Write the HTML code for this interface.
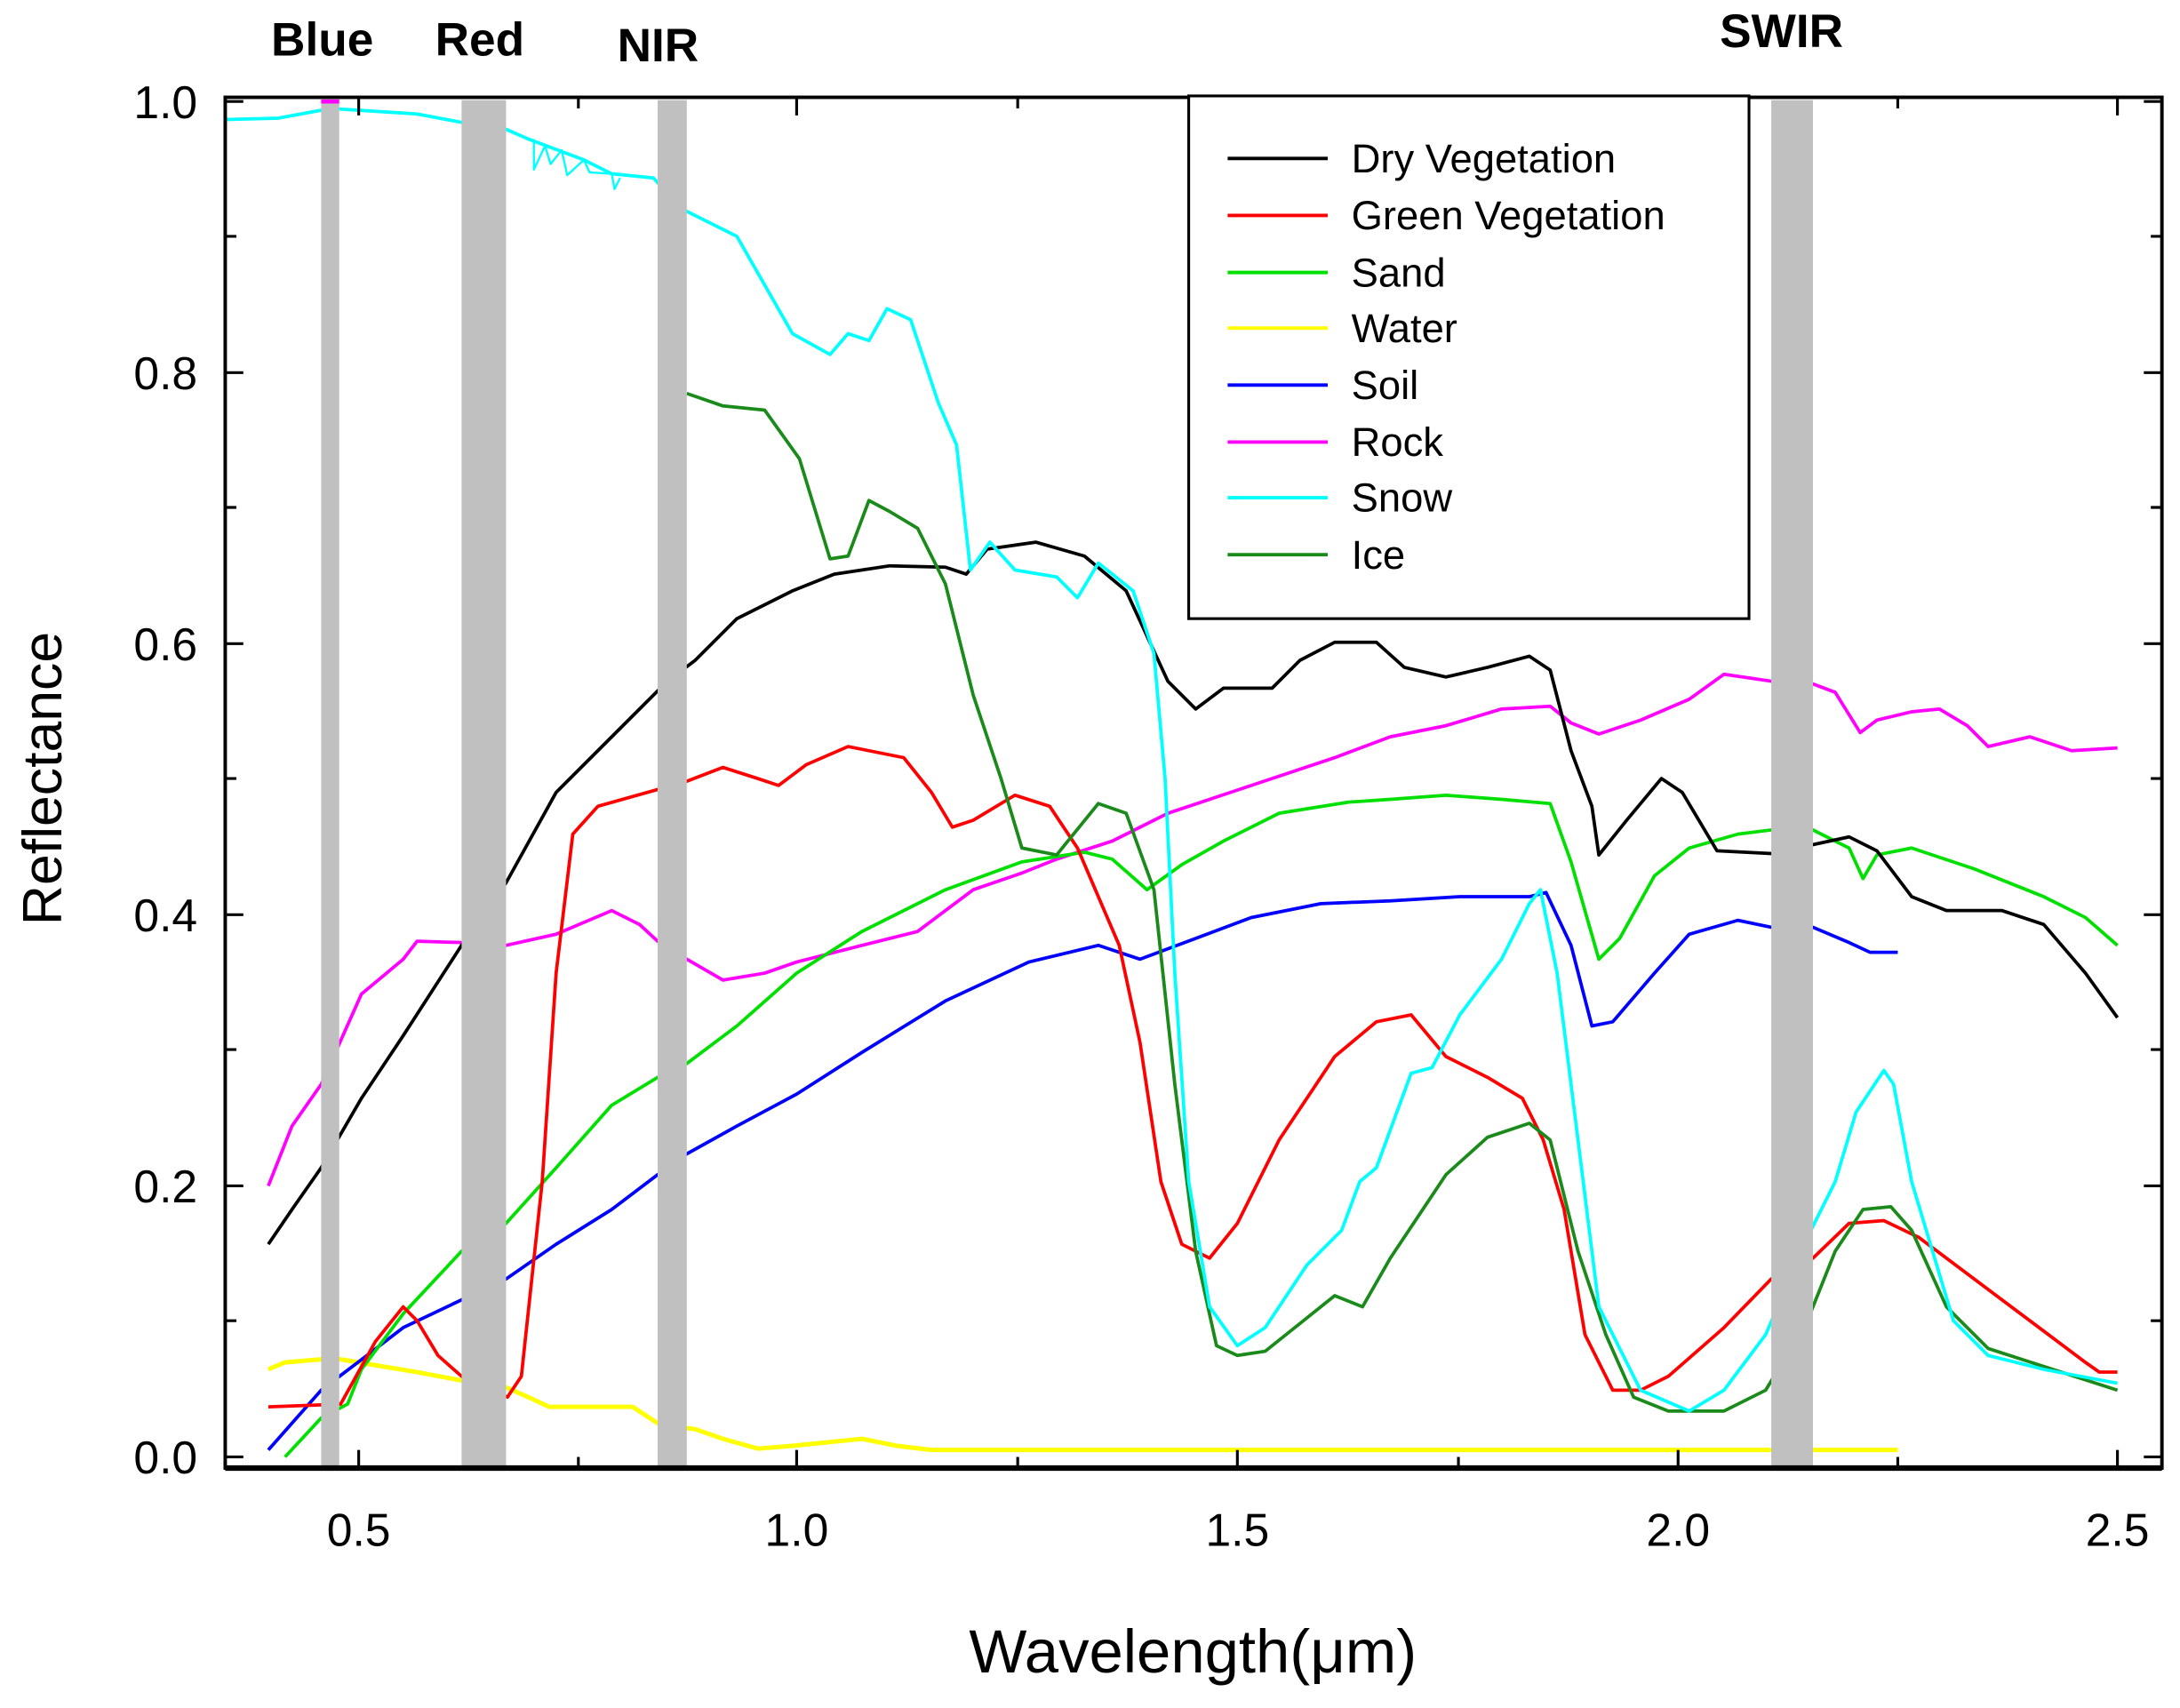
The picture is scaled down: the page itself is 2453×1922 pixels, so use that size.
<!DOCTYPE html>
<html><head><meta charset="utf-8"><style>html,body{margin:0;padding:0;background:#fff}svg{display:block}</style></head>
<body>
<svg width="2453" height="1922" viewBox="0 0 1568 1228.6" preserveAspectRatio="none" xmlns="http://www.w3.org/2000/svg" font-family="Liberation Sans, Arial, sans-serif">
<rect width="1568" height="1229" fill="#fff"/>
<g fill="none" stroke-width="2.4" stroke-linejoin="round">
<polyline stroke="#ffff00" stroke-width="3.2" points="193,985 205,980 240,977 270,982 300,987 332,993 364,998 380,1005 395,1012 455,1012 475,1025 500,1028 520,1035 545,1042 570,1040 600,1037 620,1035 645,1040 670,1043 1365,1043"/>
<polyline stroke="#ff00ff" points="193,853 210,810 231,780 260,715 290,690 300,677 332,678 364,680 400,672 440,655 460,665 473,677 494,690 520,705 550,700 573,692 620,680 660,670 700,640 735,628 760,618 800,605 840,585 900,565 960,545 1000,530 1040,522 1080,510 1115,508 1130,520 1150,528 1180,518 1215,503 1240,485 1274,490 1304,492 1320,498 1338,527 1350,518 1375,512 1395,510 1415,522 1430,537 1460,530 1490,540 1523,538"/>
<polyline stroke="#0000ff" points="193,1043 231,1000 260,978 290,955 332,935 364,920 400,895 440,870 473,845 494,830 530,810 573,787 620,757 680,720 740,692 790,680 820,690 860,675 900,660 950,650 1000,648 1050,645 1100,645 1112,642 1130,680 1145,738 1160,735 1190,700 1215,672 1250,662 1274,667 1304,667 1330,678 1345,685 1365,685"/>
<polyline stroke="#00e000" points="205,1048 231,1020 250,1010 260,985 290,945 332,900 364,880 400,840 440,795 473,775 494,765 530,738 573,700 620,670 680,640 735,620 780,613 800,618 825,640 850,622 880,605 920,585 970,577 1000,575 1040,572 1080,575 1115,578 1130,620 1150,690 1165,675 1190,630 1215,610 1250,600 1274,597 1304,597 1330,610 1340,632 1350,615 1375,610 1420,625 1470,645 1500,660 1523,680"/>
<polyline stroke="#000" points="193,895 210,870 231,840 260,790 290,745 332,680 364,635 400,570 440,530 480,490 500,475 530,445 570,425 600,413 640,407 680,408 695,413 710,395 745,390 780,400 810,425 840,490 860,510 880,495 915,495 935,475 960,462 990,462 1010,480 1040,487 1070,480 1100,472 1115,482 1130,540 1145,580 1150,615 1170,590 1195,560 1210,570 1235,612 1274,614 1330,602 1350,612 1375,645 1400,655 1440,655 1470,665 1500,700 1523,732"/>
<polyline stroke="#ff0000" points="193,1012 245,1010 270,965 290,940 300,950 315,975 332,990 365,1005 375,990 390,850 400,700 412,600 430,580 494,562 520,552 545,560 560,565 580,550 610,537 650,545 670,570 685,595 700,590 730,572 755,580 775,610 790,645 805,680 820,750 835,850 850,895 870,905 890,880 920,820 960,760 990,735 1015,730 1040,760 1070,775 1095,790 1110,820 1125,870 1140,960 1160,1000 1180,1000 1200,990 1240,955 1274,920 1304,905 1330,880 1355,878 1380,890 1440,935 1500,980 1510,987 1523,987"/>
<polyline stroke="#1a8a1a" points="494,283 520,292 550,295 575,330 597,402 610,400 625,360 640,368 660,380 680,420 700,500 720,560 735,610 760,615 790,578 810,585 830,640 845,780 860,900 875,968 890,975 910,972 940,948 960,932 980,940 1000,905 1040,845 1070,818 1100,808 1115,820 1135,900 1155,960 1175,1005 1200,1015 1240,1015 1270,1000 1300,950 1320,900 1340,870 1360,868 1375,885 1400,940 1430,970 1523,1000"/>
<polyline stroke="#00ffff" points="162,86 200,85 238,78 300,82 332,88 364,93 380,100 420,115 440,125 470,128 490,150 530,170 570,240 597,255 610,240 625,245 638,222 655,230 675,290 688,320 698,410 712,390 730,410 760,415 775,430 790,405 815,425 830,470 838,560 845,700 855,850 870,940 890,968 910,955 940,910 965,885 978,850 990,840 1015,772 1030,768 1050,730 1080,690 1100,650 1108,640 1120,700 1135,820 1150,940 1180,1000 1215,1015 1240,1000 1270,960 1300,890 1320,850 1335,800 1355,770 1362,780 1375,850 1390,900 1405,950 1430,975 1470,985 1523,995"/>
<polyline stroke="#00ffff" stroke-width="1.5" points="384,100 384,122 392,105 396,118 404,108 408,126 420,115 424,124 440,125 442,136 446,128"/>
</g>
<g fill="#c0c0c0">
<rect x="231" y="72" width="13" height="984"/>
<rect x="332" y="72" width="32" height="984"/>
<rect x="473" y="72" width="21" height="984"/>
<rect x="1274" y="72" width="30" height="984"/>
</g>
<line x1="231" y1="73" x2="244" y2="73" stroke="#ff00ff" stroke-width="3"/>
<rect x="162" y="70" width="1393" height="986" fill="none" stroke="#000" stroke-width="2.5"/>
<line x1="162" y1="1056" x2="1555" y2="1056" stroke="#000" stroke-width="4"/>
<g stroke="#000" stroke-width="2">
<path d="M258,1056v-13M573,1056v-13M890,1056v-13M1207,1056v-13M1523,1056v-13M258,70v13M573,70v13M890,70v13M1207,70v13M1523,70v13"/>
<path d="M416,1056v-8M732,1056v-8M1049,1056v-8M1365,1056v-8M416,70v8M732,70v8M1049,70v8M1365,70v8"/>
<path d="M162,73h13M162,268h13M162,463h13M162,658h13M162,853h13M162,1048h13M1555,73h-13M1555,268h-13M1555,463h-13M1555,658h-13M1555,853h-13M1555,1048h-13"/>
<path d="M162,170h8M162,365h8M162,560h8M162,755h8M162,950h8M1555,170h-8M1555,365h-8M1555,560h-8M1555,755h-8M1555,950h-8"/>
</g>
<g font-size="33" text-anchor="end" fill="#000">
<text x="142" y="85">1.0</text><text x="142" y="280">0.8</text><text x="142" y="475">0.6</text><text x="142" y="670">0.4</text><text x="142" y="865">0.2</text><text x="142" y="1060">0.0</text>
</g>
<g font-size="33" text-anchor="middle" fill="#000">
<text x="258" y="1112">0.5</text><text x="573" y="1112">1.0</text><text x="890" y="1112">1.5</text><text x="1207" y="1112">2.0</text><text x="1523" y="1112">2.5</text>
</g>
<text x="858" y="1203" font-size="44" text-anchor="middle">Wavelength(μm)</text>
<text transform="translate(44,560) rotate(-90)" font-size="40" text-anchor="middle">Reflectance</text>
<g font-size="34" font-weight="bold">
<text x="195" y="40">Blue</text><text x="313" y="40">Red</text><text x="444" y="44">NIR</text><text x="1237" y="34">SWIR</text>
</g>
<rect x="855" y="69" width="403" height="376" fill="#fff" stroke="#000" stroke-width="2"/>
<g stroke-width="2.5">
<line x1="883" y1="114" x2="955" y2="114" stroke="#000"/>
<line x1="883" y1="155" x2="955" y2="155" stroke="#ff0000"/>
<line x1="883" y1="196" x2="955" y2="196" stroke="#00e000"/>
<line x1="883" y1="236" x2="955" y2="236" stroke="#ffff00"/>
<line x1="883" y1="277" x2="955" y2="277" stroke="#0000ff"/>
<line x1="883" y1="318" x2="955" y2="318" stroke="#ff00ff"/>
<line x1="883" y1="358" x2="955" y2="358" stroke="#00ffff"/>
<line x1="883" y1="399" x2="955" y2="399" stroke="#1a8a1a"/>
</g>
<g font-size="29" fill="#000">
<text x="972" y="124">Dry Vegetation</text><text x="972" y="165">Green Vegetation</text><text x="972" y="206">Sand</text><text x="972" y="246">Water</text><text x="972" y="287">Soil</text><text x="972" y="328">Rock</text><text x="972" y="368">Snow</text><text x="972" y="409">Ice</text>
</g>
</svg>
</body></html>
